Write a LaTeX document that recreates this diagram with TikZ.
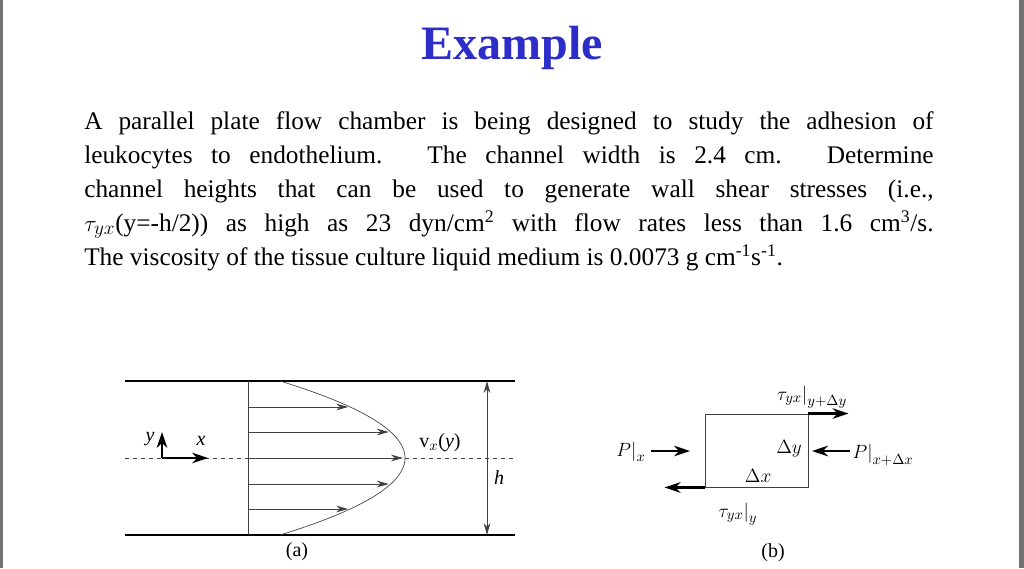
\documentclass[tikz,border=0pt]{standalone}
\usepackage{fontspec}
\setmainfont{Liberation Serif}
\usetikzlibrary{arrows.meta}
\begin{document}
\begin{tikzpicture}[x=0.75pt,y=-0.75pt,
 thin/.style={draw=black!75,line width=0.7pt},
 wall/.style={line width=2.2pt},
 vel/.style={thin,-{Stealth[length=9pt,width=5pt]}},
 force/.style={line width=1.6pt,-{Stealth[length=12pt,width=8pt]}},
 lab/.style={font=\fontsize{15}{17}\selectfont}]
\useasboundingbox (0,0) rectangle (1024,568);
\fill[black!55] (0,0) rectangle (3,568);
\fill[black!55] (1019,0) rectangle (1024,568);
\node (title) at (512,48) {\fontsize{36}{40}\selectfont\bfseries\color[RGB]{45,45,200}Example};
\node[anchor=north west,inner sep=0,text width=637pt,align=justify] (para) at (84,111)
 {\fontsize{19}{25.5}\selectfont A parallel plate flow chamber is being designed to study the adhesion of\linebreak leukocytes to endothelium. The channel width is 2.4 cm. Determine\linebreak channel heights that can be used to generate wall shear stresses (i.e.,\linebreak $\tau_{yx}$(y=-h/2)) as high as 23 dyn/cm\textsuperscript{2} with flow rates less than 1.6 cm\textsuperscript{3}/s.\linebreak The viscosity of the tissue culture liquid medium is 0.0073 g cm\textsuperscript{-1}s\textsuperscript{-1}.\par};
% (a)
\draw[wall] (125,381) -- (515,381);
\draw[wall] (125,535) -- (515,535);
\draw[dashed,thin] (125,458) -- (515,458);
\draw[thin] (248,381) -- (248,535);
\draw[thin,line width=0.5pt] plot[domain=-77:77,samples=60,smooth] ({280+125*(1-(\x/77)^2)},{458+\x});
\foreach \d in {-51,-26,0,26,51}
  \draw[vel] (248,458+\d) -- ({278+125*(1-(\d/77)^2)},458+\d);
\coordinate (o) at (162,458);
\draw[force,line width=1.2pt] (o) -- (162,432);
\draw[force,line width=1.2pt] (o) -- (208,458);
\node[lab,font=\itshape\fontsize{15}{17}\selectfont] (ly) at (150,439) {y};
\node[lab,font=\itshape\fontsize{15}{17}\selectfont] (lx) at (201,441) {x};
\node[lab] (vx) at (440,443) {v$_x$(\textit{y})};
\coordinate (ht) at (487,381); \coordinate (hb) at (487,535);
\draw[thin,{Stealth[length=9pt,width=5pt]}-{Stealth[length=9pt,width=5pt]}] (ht) -- (hb);
\node[lab,font=\itshape\fontsize{15}{17}\selectfont] (h) at (499,478) {h};
\node[lab] (a) at (297,552) {(a)};
% (b)
\node[draw=black!75,line width=0.7pt,minimum width=77.25pt,minimum height=54.75pt,inner sep=0] (box) at (756.5,450.5) {};
\draw[force] (box.north east) -- ++(40,0);
\draw[force] (box.south west) -- ++(-40,0);
\draw[force] (651,451) -- (690,451);
\draw[force] (850,451) -- (812,451);
\node[lab] (t1) at (812,397) {$\tau_{yx}\big|_{y+\Delta y}$};
\node[lab] (t2) at (738,514) {$\tau_{yx}\big|_{y}$};
\node[lab] (p1) at (631,452) {$P\big|_x$};
\node[lab] (p2) at (883,455) {$P\big|_{x+\Delta x}$};
\node[lab] (dy) at (789,449) {$\Delta y$};
\node[lab] (dx) at (758,476) {$\Delta x$};
\node[lab] (b) at (773,553) {(b)};
\end{tikzpicture}
\end{document}
